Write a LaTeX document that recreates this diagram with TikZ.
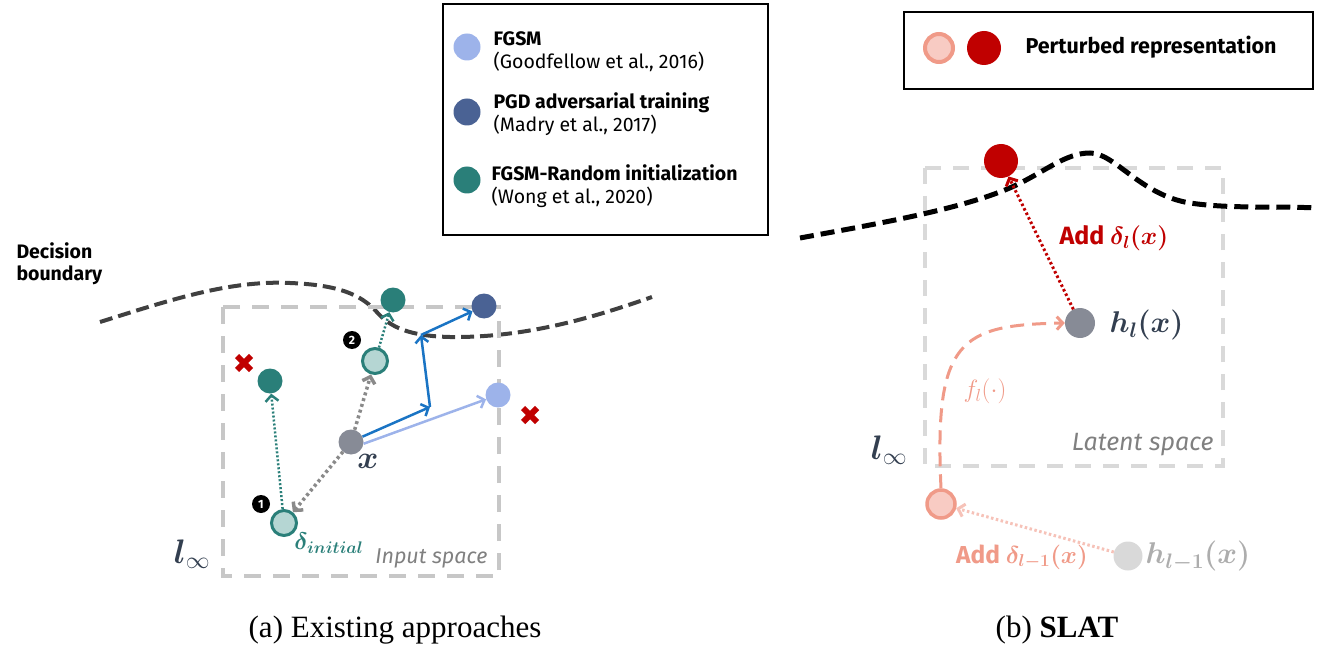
\RequirePackage{fix-cm}
\documentclass[tikz,border=0pt]{standalone}
\usepackage{amsmath}
\usepackage{fontspec}
\setmainfont{Liberation Serif}
\setsansfont{Fira Sans}
\usetikzlibrary{arrows.meta}

\definecolor{cteal}{RGB}{42,127,121}
\definecolor{ctealfill}{RGB}{181,214,211}
\definecolor{cnavy}{RGB}{74,98,148}
\definecolor{cfgsm}{RGB}{157,179,234}
\definecolor{cblue}{RGB}{26,116,196}
\definecolor{cxgray}{RGB}{135,139,150}
\definecolor{cdots}{RGB}{138,138,138}
\definecolor{cred}{RGB}{192,0,0}
\definecolor{csalmon}{RGB}{240,154,136}
\definecolor{csalmonfill}{RGB}{248,203,195}
\definecolor{cpale}{RGB}{217,217,217}
\definecolor{cslate}{RGB}{51,63,80}

\begin{document}
\begin{tikzpicture}[x=1pt, y=-1pt, >={Straight Barb[length=6pt,width=13pt]},
    dot/.style={circle, inner sep=0pt, minimum size=25pt},
    ring/.style={dot, draw, line width=3pt},
    badge/.style={circle, fill=black, text=white, inner sep=0pt, minimum size=18pt,
                  font=\sffamily\bfseries\fontsize{12}{12}\selectfont},
    legtext/.style={anchor=west, align=left, font=\sffamily\fontsize{19.5}{23}\selectfont},
    mathlabel/.style={text=cslate, font=\fontsize{28}{30}\selectfont},
    spacelabel/.style={font=\sffamily\itshape\fontsize{21.5}{23}\selectfont},
    caption/.style={font=\rmfamily\fontsize{31}{33}\selectfont},
    xmark/.pic={\draw[cred, line width=6pt] (-7,-7) -- (7,7) (-7,7) -- (7,-7);}
   ]
\useasboundingbox (0,0) rectangle (1317,647);

% (a) existing approaches
\node[anchor=west, align=left, font=\sffamily\bfseries\fontsize{19.5}{22}\selectfont] (dbtext) at (13,264) {Decision\\boundary};
\draw[line width=4pt, black!75, dash pattern=on 13pt off 6pt]
    (100,322) .. controls (170,300) and (230,280) .. (290,283)
    .. controls (340,285) and (360,295) .. (375,310)
    .. controls (390,328) and (410,336) .. (450,337)
    .. controls (530,338) and (600,315) .. (652,297);
\draw[line width=3.5pt, black!22, dash pattern=on 17pt off 12pt] (223,307) rectangle (499,576);

\node[dot, fill=cxgray] (x) at (351,442) {};
\node[ring, draw=cteal, fill=ctealfill] (init) at (284,523) {};
\node[ring, draw=cteal, fill=ctealfill] (step) at (375,361) {};
\node[dot, fill=cteal] (ri1) at (270,381) {};
\node[dot, fill=cteal] (ri2) at (393,300) {};
\node[dot, fill=cnavy] (pgd) at (484,306) {};
\node[dot, fill=cfgsm] (fgsm) at (498,395) {};
\coordinate (p1) at (430,407);
\coordinate (p2) at (421,335);

\draw[->, cdots, line width=3.5pt, dash pattern=on 3pt off 3pt] (x) -- (init);
\draw[->, cdots, line width=3.5pt, dash pattern=on 3pt off 3pt] (x) -- (step);
\draw[->, cteal, line width=2.5pt, dash pattern=on 2pt off 2pt] (init) -- (ri1);
\draw[->, cteal, line width=2.5pt, dash pattern=on 2pt off 2pt] (step) -- (ri2);
\draw[->, cfgsm, line width=2.5pt] (x.-8) -- (fgsm);
\draw[->, cblue, line width=2.5pt] (x.25) -- (p1);
\draw[->, cblue, line width=2.5pt] (p1) -- (p2);
\draw[->, cblue, line width=2.5pt] (p2) -- (pgd);

\node[badge] (b1) at (261,504) {1};
\node[badge] (b2) at (352,340) {2};
\pic at (244,363) {xmark};
\pic at (530,415) {xmark};

\node[mathlabel, font=\fontsize{32}{34}\selectfont] (xlab) at (368,461) {$\boldsymbol{x}$};
\node[text=cteal, font=\fontsize{24}{26}\selectfont] (dinit) at (329,543) {$\boldsymbol{\delta_{initial}}$};
\node[mathlabel, font=\fontsize{34}{36}\selectfont] (linf) at (192,554) {$\boldsymbol{l}_{\infty}$};
\node[spacelabel, text=black!50, anchor=east] (input) at (491,558) {Input space};

% legend (a)
\draw[line width=2.5pt] (443,4) rectangle (768,235);
\node[dot, fill=cfgsm, minimum size=27pt] (lg1) at (467,47) {};
\node[dot, fill=cnavy, minimum size=27pt] (lg2) at (467,112) {};
\node[dot, fill=cteal, minimum size=27pt] (lg3) at (467,180) {};
\node[legtext] (lt1) at (490,52) {\textbf{FGSM}\\(Goodfellow et al., 2016)};
\node[legtext] (lt2) at (490,114) {\textbf{PGD adversarial training}\\(Madry et al., 2017)};
\node[legtext] (lt3) at (488,186) {\textbf{FGSM-Random initialization}\\(Wong et al., 2020)};

\node[caption] (capa) at (395,630) {(a) Existing approaches};

% (b) SLAT
\draw[line width=4pt, cpale, dash pattern=on 16pt off 12pt] (925,168) rectangle (1223,466);
\draw[line width=5pt, black, dash pattern=on 14pt off 7pt]
    (800,238) .. controls (870,225) and (960,210) .. (1012,187)
    .. controls (1045,172) and (1065,153) .. (1090,153)
    .. controls (1115,153) and (1140,195) .. (1190,203)
    .. controls (1230,209) and (1280,206) .. (1317,208);

\node[dot, fill=cred, minimum size=34pt] (adv) at (1001,161) {};
\node[dot, fill=cxgray, minimum size=30pt] (hl) at (1080,323) {};
\node[ring, draw=csalmon, fill=csalmonfill, minimum size=28pt, line width=3.5pt] (pert) at (941,504) {};
\node[dot, fill=cpale, minimum size=29pt] (hprev) at (1128,556) {};

\draw[->, cred, line width=3pt, dash pattern=on 2.5pt off 2.5pt] (hl) -- (adv);
\draw[->, csalmon, line width=3pt, dash pattern=on 14pt off 8pt]
    (pert.north) .. controls (934,340) and (960,325) .. (hl.west);
\draw[->, csalmon!60, line width=3pt, dash pattern=on 2.5pt off 2.5pt] (hprev) -- (pert);

\node[anchor=west, text=cred, font=\sffamily\bfseries\fontsize{25}{27}\selectfont] (addl) at (1056,238) {Add $\boldsymbol{\delta_l(x)}$};
\node[anchor=west, mathlabel, font=\fontsize{30}{32}\selectfont] (hllab) at (1106,325) {$\boldsymbol{h_l(x)}$};
\node[text=csalmon, font=\fontsize{25}{27}\selectfont] (flab) at (985,391) {$f_l(\cdot)$};
\node[mathlabel, font=\fontsize{34}{36}\selectfont] (linf2) at (889,450) {$\boldsymbol{l}_{\infty}$};
\node[spacelabel, text=black!50, anchor=east, font=\sffamily\itshape\fontsize{25}{27}\selectfont] (latent) at (1217,445) {Latent space};
\node[anchor=west, text=black!32, font=\fontsize{30}{32}\selectfont] (hplab) at (1142,556) {$\boldsymbol{h_{l-1}(x)}$};
\node[text=csalmon, font=\sffamily\bfseries\fontsize{24.5}{26}\selectfont] (addp) at (1022,557) {Add $\boldsymbol{\delta_{l-1}(x)}$};

% legend (b)
\draw[line width=2.5pt] (904,12) rectangle (1313,89);
\node[ring, draw=csalmon, fill=csalmonfill, minimum size=28pt, line width=4pt] (lgr1) at (939,48) {};
\node[dot, fill=cred, minimum size=34pt] (lgr2) at (984,48) {};
\node[anchor=west, font=\sffamily\bfseries\fontsize{21.5}{23}\selectfont] (lgrt) at (1022,47) {Perturbed representation};

\node[caption] (capb) at (1057,630) {(b) \textbf{SLAT}};
\end{tikzpicture}
\end{document}
